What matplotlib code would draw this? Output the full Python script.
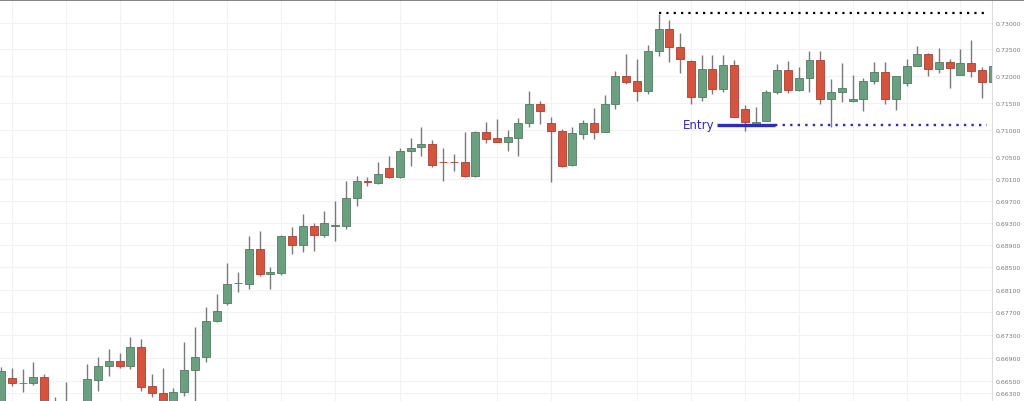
import matplotlib

matplotlib.use("Agg")
import matplotlib.pyplot as plt
import numpy as np
from matplotlib.lines import Line2D
from matplotlib.ticker import FixedLocator, FormatStrFormatter, NullLocator

# daily candles (oldest first)
opens = [
    0.6608, 0.66553, 0.66466, 0.66466, 0.66570, 0.6605, 0.6596, 0.6606, 0.6610, 0.66518,
    0.66761, 0.66848, 0.66761, 0.67092, 0.66414, 0.66293, 0.6612, 0.66311, 0.66691, 0.66918,
    0.67548, 0.67866, 0.68220, 0.68202, 0.68827, 0.68379, 0.68397, 0.69061, 0.68899, 0.69241,
    0.69079, 0.69241, 0.69241, 0.69747, 0.70055, 0.70019, 0.70295, 0.70130, 0.70606, 0.70680,
    0.70735, 0.70405, 0.70405, 0.70405, 0.70148, 0.70956, 0.70845, 0.70772, 0.70845, 0.71123,
    0.71476, 0.71123, 0.70974, 0.70350, 0.70919, 0.71123, 0.70956, 0.71476, 0.72000, 0.71906,
    0.71719, 0.72469, 0.72886, 0.72545, 0.72281, 0.71606, 0.72130, 0.71756, 0.72206, 0.71383,
    0.71104, 0.71160, 0.71700, 0.72111, 0.71738, 0.71963, 0.72300, 0.71569, 0.71700, 0.71532,
    0.71569, 0.71906, 0.72074, 0.71569, 0.71869, 0.72187, 0.72413, 0.72130, 0.72262, 0.72018,
    0.72243, 0.72111, 0.71887,
]
highs = [
    0.66744, 0.66726, 0.66709, 0.66831, 0.66622, 0.66224, 0.66483, 0.6614, 0.66796, 0.66918,
    0.67057, 0.66987, 0.67267, 0.67232, 0.66622, 0.66726, 0.66380, 0.67179, 0.67443, 0.67795,
    0.68025, 0.68575, 0.68415, 0.69061, 0.69151, 0.68504, 0.69070, 0.69223, 0.69458, 0.69295,
    0.69512, 0.69693, 0.70055, 0.70148, 0.70130, 0.70405, 0.70515, 0.70661, 0.70845, 0.71049,
    0.70809, 0.70661, 0.70551, 0.70956, 0.70974, 0.71142, 0.71197, 0.70993, 0.71216, 0.71719,
    0.71532, 0.71235, 0.71012, 0.71049, 0.71179, 0.71402, 0.71644, 0.72093, 0.72413, 0.72319,
    0.72582, 0.73172, 0.73057, 0.72810, 0.72300, 0.72394, 0.72394, 0.72394, 0.72300, 0.71458,
    0.71420, 0.71738, 0.72224, 0.72281, 0.72168, 0.72469, 0.72469, 0.71943, 0.72243, 0.72018,
    0.71963, 0.72262, 0.72262, 0.71999, 0.72319, 0.72563, 0.72432, 0.72526, 0.72319, 0.72507,
    0.72676, 0.72168, 0.72319,
]
lows = [
    0.6603, 0.66414, 0.66311, 0.66432, 0.6602, 0.6590, 0.6590, 0.6600, 0.6606, 0.66328,
    0.66587, 0.66726, 0.66709, 0.66328, 0.66224, 0.6602, 0.6604, 0.66241, 0.6608, 0.66831,
    0.67531, 0.67831, 0.68060, 0.68114, 0.68344, 0.68114, 0.68361, 0.68738, 0.68774, 0.68791,
    0.69043, 0.68971, 0.69187, 0.69602, 0.69964, 0.70001, 0.70112, 0.70112, 0.70332, 0.70515,
    0.70313, 0.70055, 0.70240, 0.70130, 0.70130, 0.70753, 0.70765, 0.70606, 0.70515, 0.71049,
    0.71104, 0.70037, 0.70320, 0.70332, 0.70827, 0.70827, 0.70956, 0.71383, 0.71850, 0.71532,
    0.71663, 0.72375, 0.72262, 0.72055, 0.71476, 0.71532, 0.71663, 0.71700, 0.71235, 0.70974,
    0.71067, 0.71160, 0.71663, 0.71682, 0.71719, 0.71700, 0.71476, 0.71049, 0.71513, 0.71513,
    0.71346, 0.71850, 0.71476, 0.71365, 0.71812, 0.72187, 0.71999, 0.72055, 0.71775, 0.72018,
    0.71981, 0.71588, 0.71850,
]
closes = [
    0.66674, 0.66466, 0.66470, 0.66570, 0.66103, 0.6598, 0.6612, 0.6613, 0.66535, 0.66761,
    0.66848, 0.66761, 0.67092, 0.66397, 0.66293, 0.66103, 0.66311, 0.66691, 0.66918, 0.67548,
    0.67724, 0.68202, 0.68226, 0.68827, 0.68379, 0.68415, 0.69061, 0.68899, 0.69241, 0.69079,
    0.69295, 0.69250, 0.69747, 0.70055, 0.70037, 0.70185, 0.70130, 0.70606, 0.70661, 0.70735,
    0.70350, 0.70400, 0.70400, 0.70148, 0.70956, 0.70827, 0.70772, 0.70864, 0.71123, 0.71476,
    0.71346, 0.70974, 0.70332, 0.70938, 0.71123, 0.70956, 0.71476, 0.72000, 0.71887, 0.71719,
    0.72469, 0.72886, 0.72545, 0.72319, 0.71606, 0.72130, 0.71756, 0.72206, 0.71235, 0.71142,
    0.71142, 0.71700, 0.72111, 0.71738, 0.71963, 0.72300, 0.71569, 0.71700, 0.71775, 0.71569,
    0.71906, 0.72074, 0.71569, 0.71999, 0.72187, 0.72413, 0.72130, 0.72262, 0.72149, 0.72243,
    0.72093, 0.71887, 0.72187,
]

price_ticks = [0.73, 0.725, 0.72, 0.715, 0.71, 0.705, 0.701, 0.697, 0.693, 0.689,
               0.685, 0.681, 0.677, 0.673, 0.669, 0.665, 0.663]
grid_bars = [1, 6, 11, 16, 21, 26, 31, 37, 46, 51, 59, 64, 69, 74, 79, 84, 89]

# drawn levels
high_level = 0.7319
high_from = 61
entry_level = 0.7109
entry_from = 66.4
entry_solid_to = 71.8
levels_to = 91.5

UP, DOWN = "#6a9f80", "#d5533f"
UP_EDGE, DOWN_EDGE = "#4f7d62", "#a8402f"

fig = plt.figure(figsize=(10.24, 4.02), dpi=100)
ax = fig.add_axes([0, 0, 992 / 1024, 1])

o = np.array(opens)
h = np.array(highs)
lo = np.array(lows)
c = np.array(closes)
x = np.arange(len(o))
up = c >= o

ax.vlines(x, lo, h, color="#7a7a7a", lw=1.0, zorder=2)
ax.bar(x, np.abs(c - o), bottom=np.minimum(o, c), width=0.74,
       color=np.where(up, UP, DOWN), edgecolor=np.where(up, UP_EDGE, DOWN_EDGE),
       linewidth=0.6, zorder=3)

ax.plot([high_from, levels_to], [high_level, high_level], color="black",
        lw=1.6, ls=(0, (1, 2.3)), zorder=4)
ax.plot([entry_solid_to, levels_to], [entry_level, entry_level], color="#2c2cc0",
        lw=1.7, ls=(0, (1, 2.2)), zorder=4)
ax.plot([entry_from, entry_solid_to], [entry_level, entry_level], color="#2c2cc0",
        lw=2.4, solid_capstyle="butt", zorder=5)
ax.text(entry_from - 0.25, entry_level, "Entry", color="#2c2cb0", fontsize=8.5,
        ha="right", va="center", zorder=5)

ax.set_yscale("log")
ax.set_ylim(0.66155, 0.73458)
ax.set_xlim(-0.09, 91.93)
ax.yaxis.set_major_locator(FixedLocator(price_ticks))
ax.yaxis.set_major_formatter(FormatStrFormatter("%.5f"))
ax.yaxis.set_minor_locator(NullLocator())
ax.yaxis.tick_right()
ax.tick_params(axis="y", length=0, pad=2.8, labelsize=4.5, labelcolor="#7c7c7c")
ax.set_xticks(grid_bars)
ax.tick_params(axis="x", length=0, labelbottom=False)
ax.grid(True, color="#f2f2f2", lw=0.8, zorder=0)
ax.set_axisbelow(True)

for side in ("left", "bottom"):
    ax.spines[side].set_visible(False)
ax.spines["right"].set_color("#dcdcdc")
ax.spines["right"].set_linewidth(0.8)
ax.spines["top"].set_visible(False)
fig.add_artist(Line2D([0, 1], [0.998, 0.998], transform=fig.transFigure,
                      color="#6e6e6e", lw=1.2))

fig.savefig("out.png", dpi=100)
